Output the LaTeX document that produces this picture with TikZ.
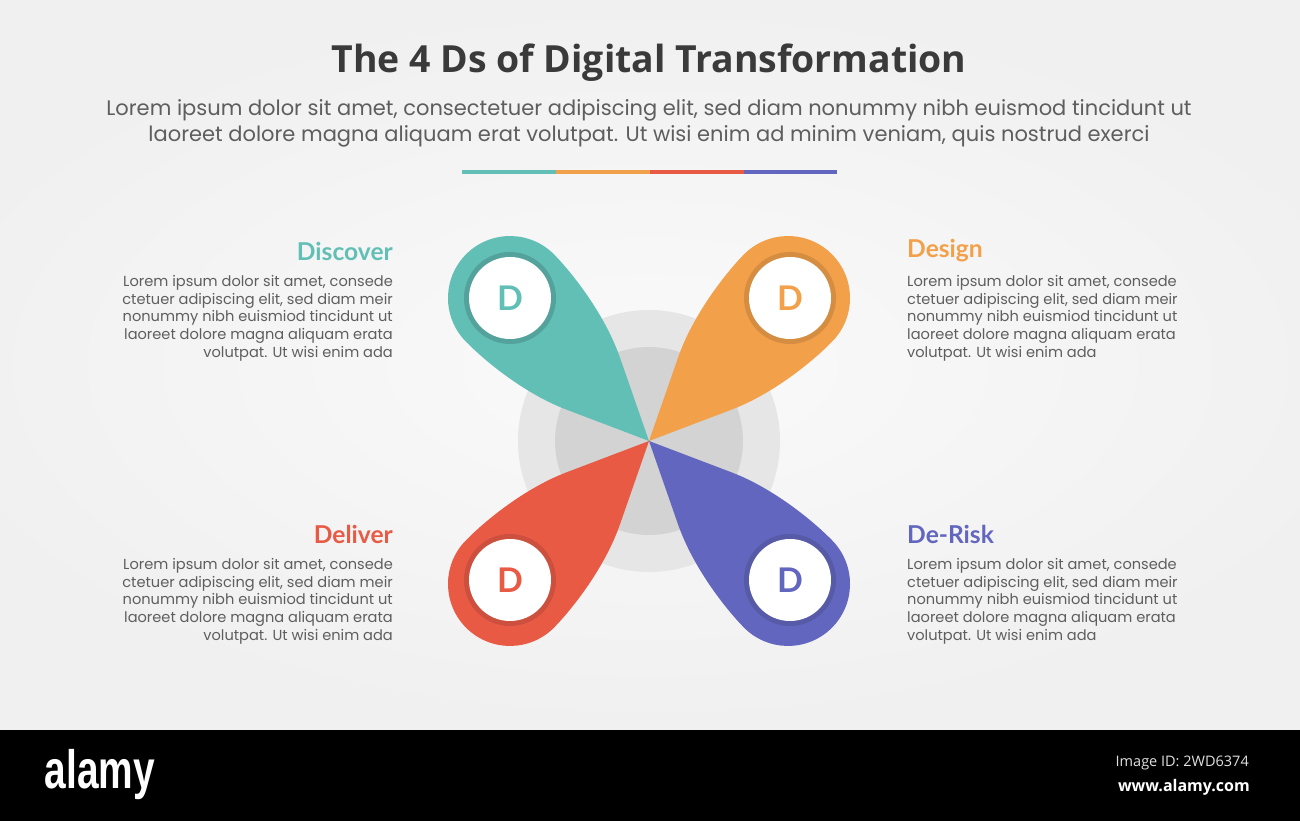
\documentclass[tikz,border=0pt]{standalone}
\usepackage{fontspec}
\setmainfont{Poppins}
\newfontfamily\titlefont{Open Sans}
\newfontfamily\headfont{Lato}
\newfontfamily\logofont[FakeStretch=0.72]{Liberation Sans}
\definecolor{cteal}{HTML}{62BFB6}
\definecolor{corange}{HTML}{F2A04A}
\definecolor{cred}{HTML}{E95A45}
\definecolor{cblue}{HTML}{6266BE}
\definecolor{txt}{HTML}{5E5E5E}
\definecolor{ttl}{HTML}{3A3A3A}
\definecolor{bgout}{HTML}{F0F0F0}
\definecolor{bgin}{HTML}{FAFAFA}
\definecolor{gouter}{HTML}{E6E6E6}
\definecolor{ginner}{HTML}{D3D3D3}
\tikzset{
  bodytext/.style={font=\fontsize{14.6}{17.8}\selectfont, text=txt, inner sep=0pt},
  headtext/.style={font=\headfont\bfseries\fontsize{24.6}{26}\selectfont, inner sep=0pt},
  dletter/.style={circle, fill=white, minimum size=82pt, inner sep=0pt, font=\headfont\bfseries\fontsize{34}{34}\selectfont},
}
\newcommand\mypetal[2]{%
  \begin{scope}[shift={(649,380)},rotate=#1]
    \fill[#2] (0,0) -- (80,37.3) .. controls (120.8,56.3) and (172,62) .. (199.4,62)
      arc[start angle=90,end angle=-90,radius=62]
      .. controls (172,-62) and (120.8,-56.3) .. (80,-37.3) -- cycle;
  \end{scope}}
\begin{document}
\begin{tikzpicture}[x=1pt,y=1pt]
\useasboundingbox (0,0) rectangle (1300,821);
% background
\fill[bgout] (0,91) rectangle (1300,821);
\shade[inner color=bgin, outer color=bgout] (-100,91) rectangle (1400,821);
\fill[black] (0,0) rectangle (1300,91);
% title
\node[font=\titlefont\bfseries\fontsize{37.4}{40}\selectfont, text=ttl, inner sep=0pt] (title) at (649,758) {The 4 Ds of Digital Transformation};
\node[font=\fontsize{21}{26}\selectfont, text=txt, align=center, inner sep=0pt] (sub) at (649,698)
  {Lorem ipsum dolor sit amet, consectetuer adipiscing elit, sed diam nonummy nibh euismod tincidunt ut\\
   laoreet dolore magna aliquam erat volutpat. Ut wisi enim ad minim veniam, quis nostrud exerci};
% colour bar
\draw[cteal, line width=4pt] (462,649) -- (556,649);
\draw[corange, line width=4pt] (556,649) -- (650,649);
\draw[cred, line width=4pt] (650,649) -- (744,649);
\draw[cblue, line width=4pt] (744,649) -- (837,649);
% grey circles
\fill[gouter] (649,380) circle[radius=131];
\fill[ginner] (649,380) circle[radius=94];
% petals
\mypetal{134.2}{cteal}
\mypetal{45.8}{corange}
\mypetal{225.8}{cred}
\mypetal{-45.8}{cblue}
% rings
\fill[cteal!85!black] (510,523) circle[radius=46];
\fill[corange!88!black] (790,523) circle[radius=46];
\fill[cred!88!black] (510,241) circle[radius=46];
\fill[cblue!88!black] (790,241) circle[radius=46];
\node[dletter, text=cteal] (d1) at (510,523) {D};
\node[dletter, text=corange] (d2) at (790,523) {D};
\node[dletter, text=cred] (d3) at (510,241) {D};
\node[dletter, text=cblue] (d4) at (790,241) {D};
% headings
\node[headtext, text=cteal, anchor=east] (h1) at (393,570) {Discover};
\node[headtext, text=corange, anchor=west] (h2) at (907,570) {Design};
\node[headtext, text=cred, anchor=east] (h3) at (393,287) {Deliver};
\node[headtext, text=cblue, anchor=west] (h4) at (907,287) {De-Risk};
% bodies
\node[bodytext, align=right, anchor=north east] (b1) at (393,546) {Lorem ipsum dolor sit amet, consede\\ctetuer adipiscing elit, sed diam meir\\nonummy nibh euismiod tincidunt ut\\laoreet dolore magna aliquam erata\\volutpat. Ut wisi enim ada};
\node[bodytext, align=left, anchor=north west] (b2) at (907,546) {Lorem ipsum dolor sit amet, consede\\ctetuer adipiscing elit, sed diam meir\\nonummy nibh euismiod tincidunt ut\\laoreet dolore magna aliquam erata\\volutpat. Ut wisi enim ada};
\node[bodytext, align=right, anchor=north east] (b3) at (393,263) {Lorem ipsum dolor sit amet, consede\\ctetuer adipiscing elit, sed diam meir\\nonummy nibh euismiod tincidunt ut\\laoreet dolore magna aliquam erata\\volutpat. Ut wisi enim ada};
\node[bodytext, align=left, anchor=north west] (b4) at (907,263) {Lorem ipsum dolor sit amet, consede\\ctetuer adipiscing elit, sed diam meir\\nonummy nibh euismiod tincidunt ut\\laoreet dolore magna aliquam erata\\volutpat. Ut wisi enim ada};
% footer
\node[font=\logofont\bfseries\fontsize{54}{54}\selectfont, text=white, inner sep=0pt, anchor=base] (logo) at (100,32) {alamy};
\node[font=\titlefont\fontsize{14.5}{16}\selectfont, text=white!88!black, inner sep=0pt, anchor=east] (imgid) at (1249,58) {Image ID: 2WD6374};
\node[font=\titlefont\bfseries\fontsize{16}{17}\selectfont, text=white, inner sep=0pt, anchor=east] (url) at (1250,34) {www.alamy.com};
\end{tikzpicture}
\end{document}
